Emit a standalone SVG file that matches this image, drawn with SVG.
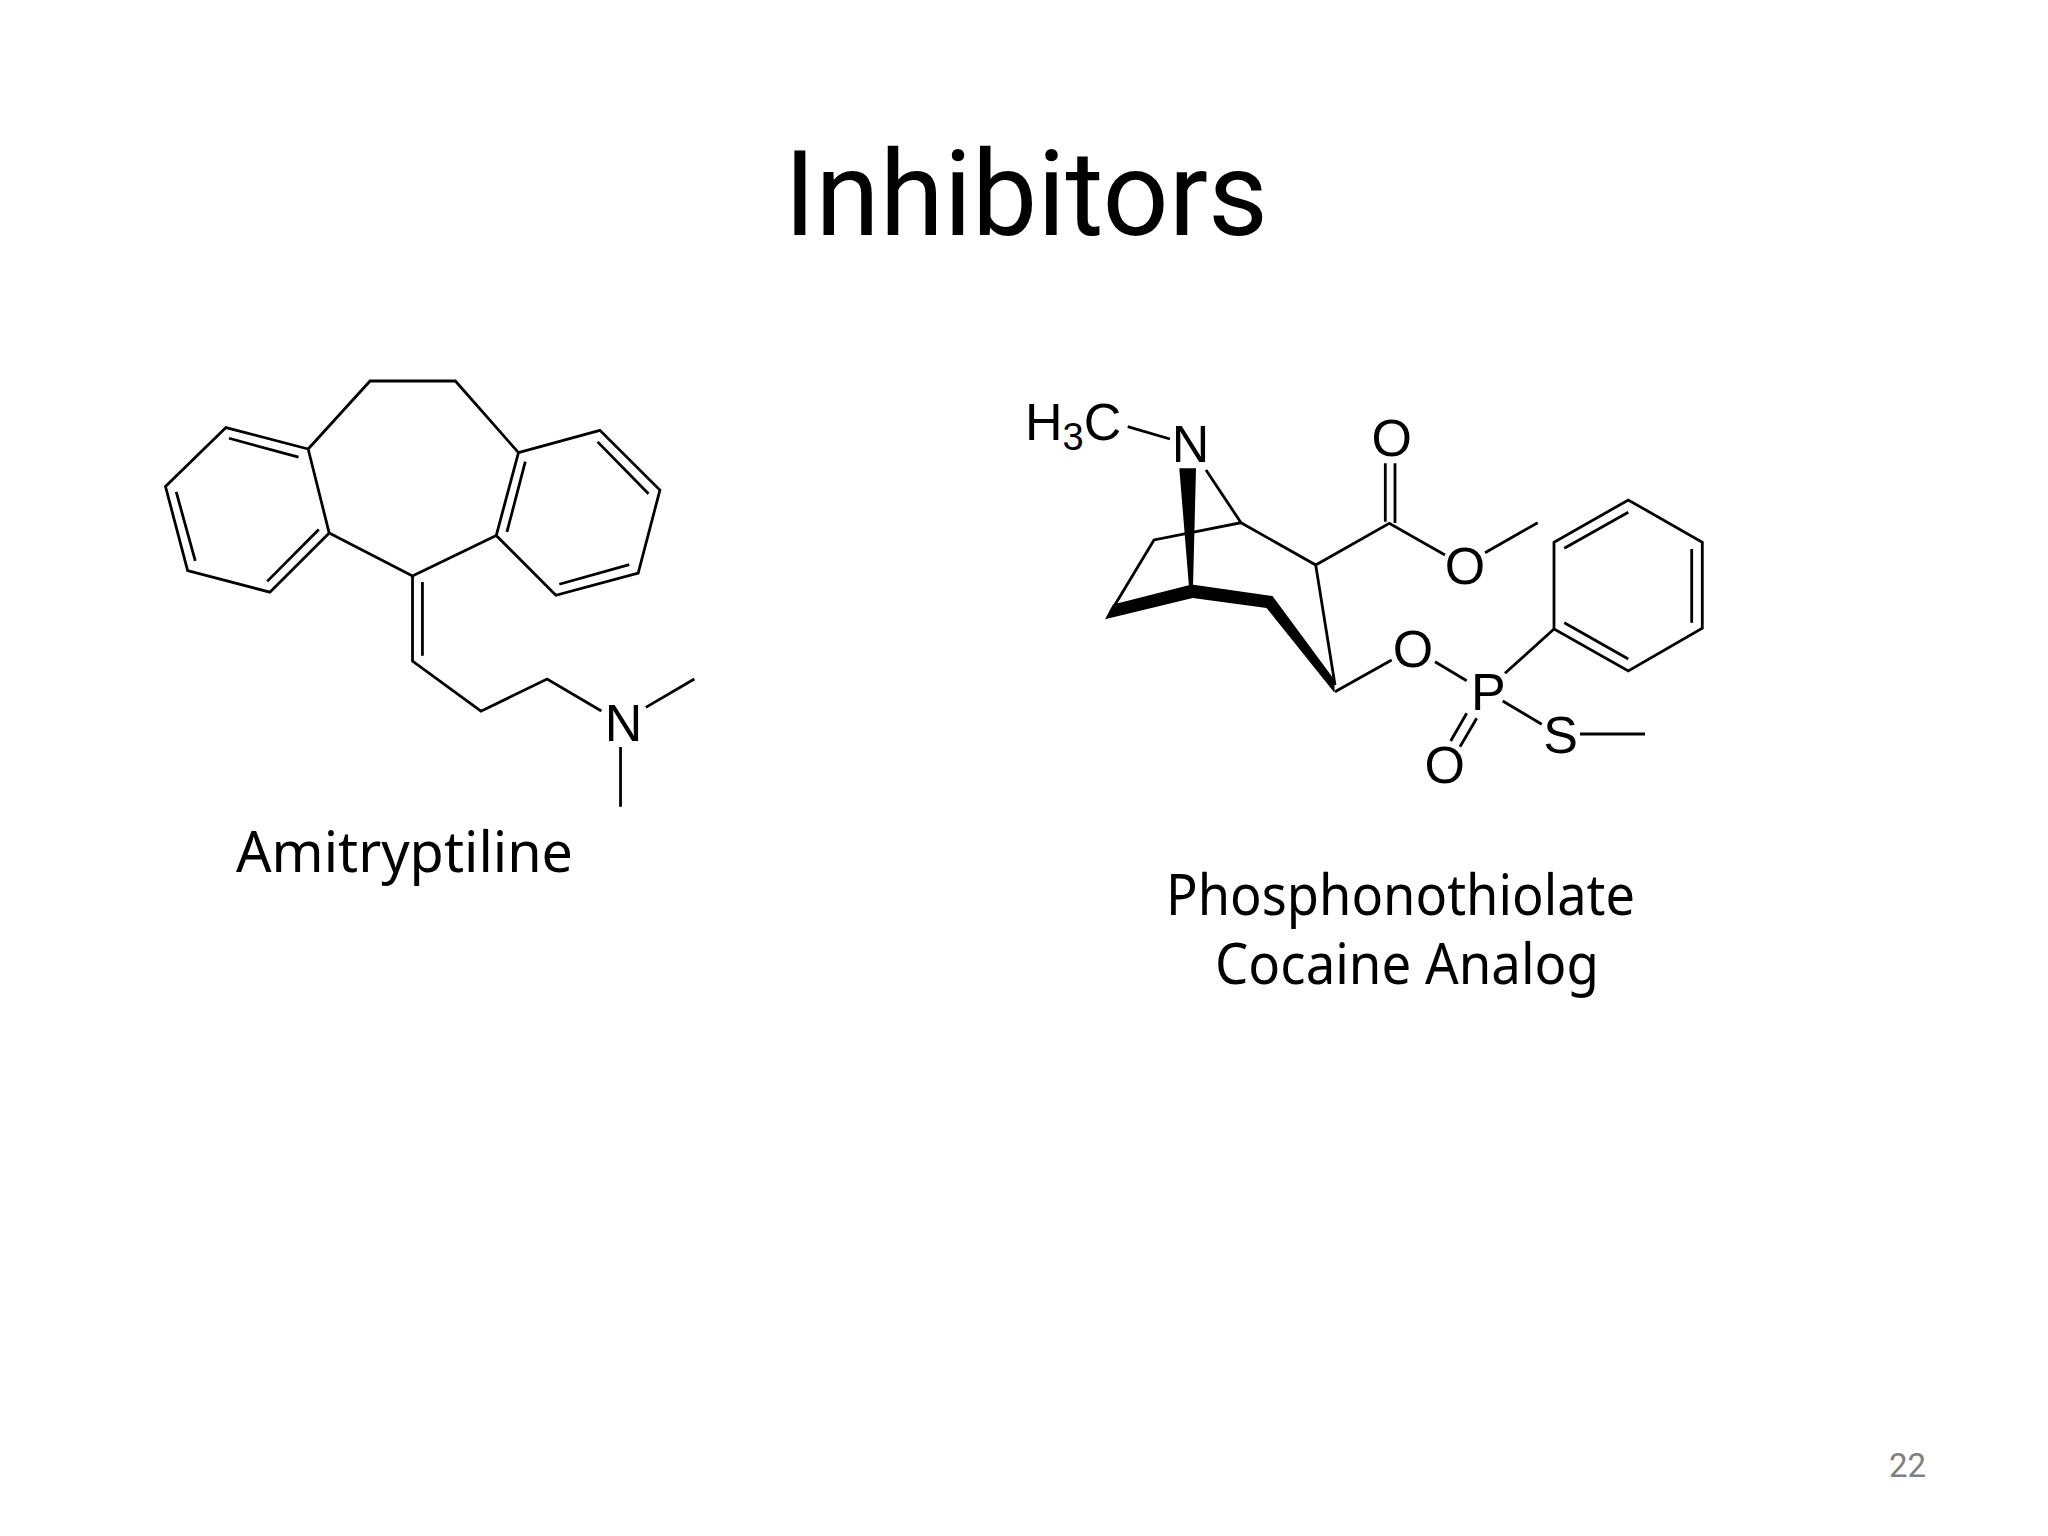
<svg xmlns="http://www.w3.org/2000/svg" width="2048" height="1536" viewBox="0 0 2048 1536">
<style>
.b{stroke:#000;stroke-width:2.8;fill:none;stroke-linejoin:miter;stroke-linecap:butt}
.a{font-family:"Liberation Sans",Arial,sans-serif;font-size:52px;fill:#000}
.l{font-family:"Noto Sans",sans-serif;font-size:57px;fill:#000}
</style>
<rect width="2048" height="1536" fill="#fff"/>
<text id="title" x="784" y="235" font-family="Roboto,sans-serif" font-size="118" textLength="484" lengthAdjust="spacingAndGlyphs">Inhibitors</text>
<g id="connectors">
<g id="amitriptyline-bonds" class="b" transform="translate(1.33 -0.45) scale(.992 .9944)">
<path d="M309.3 452L371.7 383.6H457.7L521.3 455.6"/>
<path d="M309.3 452L226.4 430.4L165.5 489.7L187.8 574.3L270.7 595.9L330.5 536.5Z"/>
<path d="M521.3 455.6L603.4 433.2L663.9 493.3L642 576.8L559 599.1L498.9 539Z"/>
<path d="M330.5 536.5L414.5 579.7L498.9 539"/>
<path d="M414.5 579.7V665.3L483.5 715.7L550.2 683.3L604.9 715.4"/>
<path d="M649.7 711.8L698.6 683.3M624.2 751.7V811.8"/>
<path d="M229.5 441.2L299.6 460.2M176.3 495.1L195.5 564.6M268 585.1L320 532.9M528.2 464.6L509.7 535.4M601.1 444.8L652.4 496.9M633 568.2L562.5 588M424.5 585.8V660"/>
</g>
<g id="analog-bonds" class="b">
<path d="M1127.7 426.7L1170 439M1206 470L1241 522.7L1154 540L1110 613"/>
<path d="M1241 522.7L1315.7 565L1335 685M1315.7 565L1389.3 523.3L1445 555M1485 552.7L1537.7 522.7"/>
<path d="M1385.3 463.3V521.7M1395 463.3V523"/>
<path d="M1335 691.7L1391.7 660M1435 661.7L1466.7 680.7M1505 673.3L1554 629"/>
<path d="M1554 629V542.3L1628.3 500L1702.3 542.3V628.3L1628.3 671Z"/>
<path d="M1564.3 548.3L1628.3 512.3M1691.7 549V622.7M1564.3 622.7L1628.3 659"/>
<path d="M1466.7 713.3L1450.7 741M1476.7 718.3L1460 746.7M1502.7 701L1541.7 724.3M1580 734H1645"/>
</g>
<polygon id="hash-wedge" points="1179.3,468.3 1196,468.3 1193,586.7 1189,586.7" fill="#000"/>
<polygon id="bold-bond" points="1105,619.3 1113,604.5 1191.7,584.5 1272.5,596 1334.5,680 1334.5,692.7 1266.5,608 1192.7,598" fill="#000"/>
</g>
<g id="atoms-amitriptyline">
<text class="a" x="623.5" y="740.5" text-anchor="middle">N</text>
</g>
<g id="atoms-analog">
<text class="a" x="1025" y="440">H<tspan dy="10" font-size="38">3</tspan><tspan dy="-10">C</tspan></text>
<text class="a" x="1190.5" y="461.5" text-anchor="middle">N</text>
<text class="a" x="1391.7" y="456" text-anchor="middle">O</text>
<text class="a" x="1465" y="584" text-anchor="middle">O</text>
<text class="a" x="1413" y="667" text-anchor="middle">O</text>
<text class="a" x="1471" y="710">P</text>
<text class="a" x="1444.7" y="783" text-anchor="middle">O</text>
<text class="a" x="1560.7" y="753" text-anchor="middle">S</text>
</g>
<text id="label-amitriptyline" class="l" x="236" y="872" textLength="337" lengthAdjust="spacingAndGlyphs">Amitryptiline</text>
<g id="label-analog">
<text class="l" x="1166" y="915" textLength="469" lengthAdjust="spacingAndGlyphs">Phosphonothiolate</text>
<text class="l" x="1215" y="984" textLength="384" lengthAdjust="spacingAndGlyphs">Cocaine Analog</text>
</g>
<text id="page" x="1889" y="1477" font-family="Roboto,sans-serif" font-size="33" fill="#808080">22</text>
</svg>
